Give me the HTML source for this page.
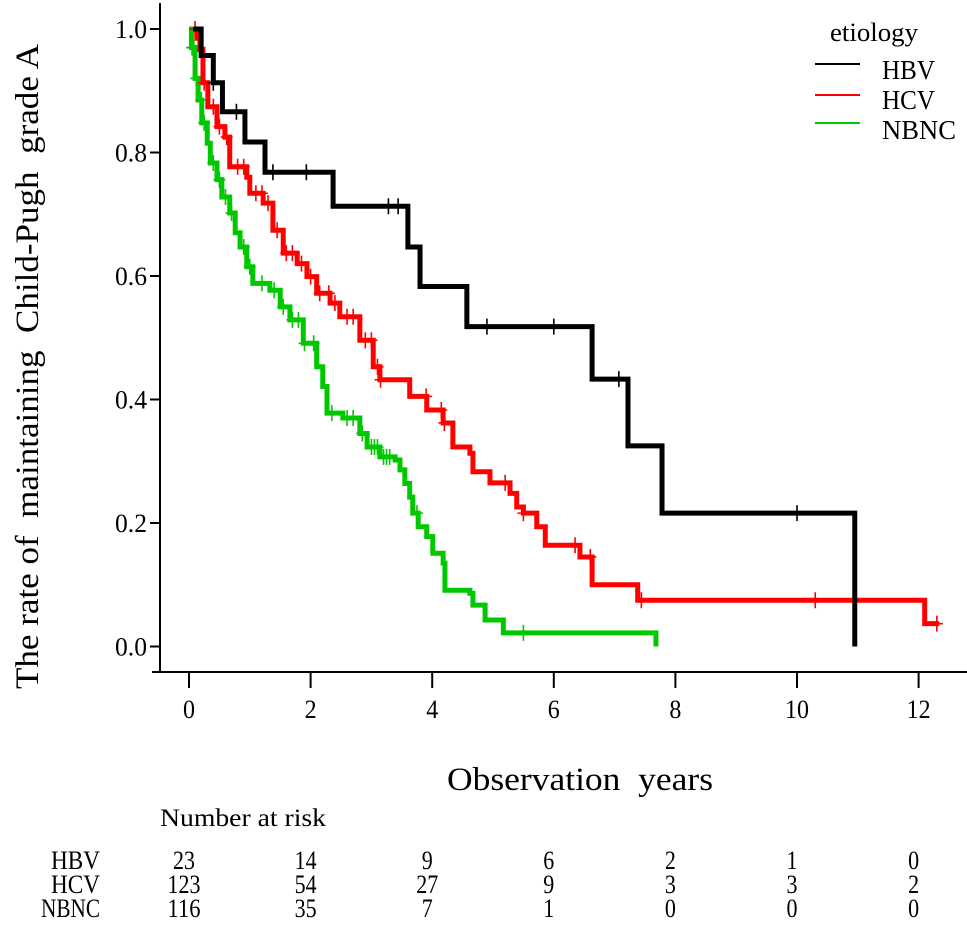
<!DOCTYPE html>
<html><head><meta charset="utf-8"><style>
html,body{margin:0;padding:0;background:#fff;}
svg{display:block;font-family:"Liberation Serif",serif;}
.pre{white-space:pre;}
</style></head><body>
<svg id="chart" width="967" height="932" viewBox="0 0 967 932" xmlns="http://www.w3.org/2000/svg">
<g id="axes"></g>
<g id="series"></g>
<g id="legend">
  <text x="830" y="41" font-size="26" textLength="88" lengthAdjust="spacingAndGlyphs">etiology</text>
  <line x1="815" y1="64" x2="860" y2="64" stroke="#000" stroke-width="2"/>
  <line x1="815" y1="95" x2="860" y2="95" stroke="#f00" stroke-width="2"/>
  <line x1="815" y1="123" x2="860" y2="123" stroke="#00c800" stroke-width="2"/>
  <text x="882" y="79" font-size="27" textLength="53" lengthAdjust="spacingAndGlyphs">HBV</text>
  <text x="882" y="109" font-size="27" textLength="53" lengthAdjust="spacingAndGlyphs">HCV</text>
  <text x="882" y="139" font-size="27" textLength="74" lengthAdjust="spacingAndGlyphs">NBNC</text>
</g>
<text class="pre" transform="translate(38,367) rotate(-90)" x="-322" y="0" font-size="33" textLength="645" lengthAdjust="spacingAndGlyphs">The rate of  maintaining  Child-Pugh  grade A</text>
<text class="pre" x="447" y="790" font-size="33" textLength="266" lengthAdjust="spacingAndGlyphs">Observation  years</text>
<g id="risk">
  <text x="160" y="826" font-size="25" textLength="166" lengthAdjust="spacingAndGlyphs">Number at risk</text>
</g>
</svg>
<script>
const xTicks=[0,2,4,6,8,10,12];
const yTicks=[0,0.2,0.4,0.6,0.8,1.0];
const yTickLabels=["0.0","0.2","0.4","0.6","0.8","1.0"];
const hbvTimes=[0.2,0.4,0.55,0.92,1.25,2.37,3.6,3.8,4.57,6.63,7.22,7.78,10.95];
const hbvSurv=[0.957,0.913,0.866,0.817,0.768,0.713,0.647,0.583,0.518,0.433,0.325,0.216,0];
const hbvCens=[0.4,0.78,1.38,1.93,3.28,3.44,4.9,6.0,7.07,10.0];
const hcvTimes=[0.13,0.18,0.23,0.31,0.46,0.59,0.67,0.95,1.0,1.22,1.38,1.55,1.78,1.94,2.1,2.32,2.48,2.81,3.03,3.14,3.63,3.91,4.18,4.34,4.62,4.67,4.95,5.28,5.39,5.5,5.72,5.86,6.43,6.63,7.38,12.1];
const hcvSurv=[0.985,0.967,0.913,0.874,0.842,0.825,0.777,0.76,0.734,0.718,0.674,0.637,0.62,0.599,0.572,0.556,0.534,0.496,0.453,0.432,0.405,0.383,0.362,0.323,0.313,0.283,0.265,0.248,0.226,0.216,0.194,0.164,0.145,0.1,0.075,0.037];
const hcvCens=[0.1,0.25,0.4,0.5,0.62,0.8,0.9,1.1,1.2,1.3,1.45,1.6,1.7,1.85,2.0,2.15,2.3,2.4,2.6,2.7,2.9,3.0,3.1,3.15,3.9,4.15,4.2,5.2,5.5,6.35,6.6,7.44,10.3,12.3];
const nbncTimes=[0.04,0.1,0.15,0.21,0.3,0.35,0.46,0.54,0.67,0.76,0.84,0.95,1.05,1.33,1.5,1.66,1.88,2.1,2.2,2.27,2.53,2.81,2.93,3.14,3.39,3.47,3.55,3.63,3.68,3.77,3.91,4.01,4.18,4.21,4.62,4.67,4.87,5.17,7.68];
const nbncSurv=[0.97,0.92,0.885,0.848,0.815,0.783,0.756,0.728,0.702,0.67,0.647,0.615,0.588,0.577,0.55,0.529,0.491,0.453,0.421,0.378,0.37,0.345,0.323,0.307,0.302,0.286,0.264,0.242,0.216,0.194,0.178,0.151,0.135,0.091,0.086,0.067,0.043,0.022,0];
const nbncCens=[0.05,0.08,0.12,0.2,0.25,0.4,0.5,0.6,0.7,0.9,1.0,1.2,1.4,1.55,1.7,1.8,1.9,2.05,2.35,2.6,2.7,2.85,3.0,3.05,3.1,3.2,3.25,3.3,3.75,5.5];
const riskRows=["HBV","HCV","NBNC"];
const riskHBV=[23,14,9,6,2,1,0];
const riskHCV=[123,54,27,9,3,3,2];
const riskNBNC=[116,35,7,1,0,0,0];

const NS="http://www.w3.org/2000/svg";
const X=t=>189+t*60.8;
const Y=s=>646.5-617.5*s;
function mk(tag,attrs,parent){const el=document.createElementNS(NS,tag);for(const k in attrs)el.setAttribute(k,attrs[k]);parent.appendChild(el);return el;}
const axes=document.getElementById('axes');
let e;
e=mk('line',{x1:160,y1:3,x2:160,y2:672,stroke:'#000','stroke-width':2},axes);


e=mk('line',{x1:152,y1:672,x2:967,y2:672,stroke:'#000','stroke-width':2},axes);


xTicks.forEach(t=>{
  e=mk('line',{x1:X(t),y1:672,x2:X(t),y2:688,stroke:'#000','stroke-width':2},axes);
  
  
  const s=String(t);
  e=mk('text',{x:X(t),y:718,'text-anchor':'middle','font-size':26,textLength:s.length*12,lengthAdjust:'spacingAndGlyphs'},axes);
  
  
  e.textContent=s;
});
yTicks.forEach((v,i)=>{
  e=mk('line',{x1:150,y1:Y(v),x2:160,y2:Y(v),stroke:'#000','stroke-width':2},axes);
  
  
  e=mk('text',{x:115,y:Y(v)+9,'font-size':26,textLength:32,lengthAdjust:'spacingAndGlyphs'},axes);
  
  
  e.textContent=yTickLabels[i];
});
const ser=document.getElementById('series');
function survAt(times,surv,t){let s=1;for(let i=0;i<times.length;i++){if(times[i]<=t)s=surv[i];}return s;}
function drawKM(times,surv,cens,color,name,endT){
  let d='M'+X(0.07)+' '+Y(1);
  times.forEach((t,i)=>{d+=' H'+X(t)+' V'+Y(surv[i]);});
  if(endT>times[times.length-1])d+=' H'+X(endT);
  e=mk('path',{d:d,fill:'none',stroke:color,'stroke-width':5,'stroke-linejoin':'miter'},ser);
  
  
  cens.forEach(t=>{
    const y=Y(survAt(times,surv,t)),x=X(t);
    e=mk('path',{d:'M'+(x-6)+' '+y+' H'+(x+6)+' M'+x+' '+(y-8)+' V'+(y+8),stroke:color,'stroke-width':1.6,fill:'none'},ser);
    
    
  });
}
drawKM(nbncTimes,nbncSurv,nbncCens,'#00c800','nbnc',7.68);
drawKM(hcvTimes,hcvSurv,hcvCens,'#ff0000','hcv',12.34);
drawKM(hbvTimes,hbvSurv,hbvCens,'#000000','hbv',10.95);
const risk=document.getElementById('risk');
const rowVals=[riskHBV,riskHCV,riskNBNC];
const labelW=[49,49,59];
riskRows.forEach((r,ri)=>{
  const y=869+ri*24;
  e=mk('text',{x:100-labelW[ri],y:y,'font-size':26,textLength:labelW[ri],lengthAdjust:'spacingAndGlyphs'},risk);
  
  
  e.textContent=r;
  rowVals[ri].forEach((v,i)=>{
    const s=String(v);
    e=mk('text',{x:X(xTicks[i])-5,y:y,'text-anchor':'middle','font-size':26,textLength:s.length*11,lengthAdjust:'spacingAndGlyphs'},risk);
    
    
    e.textContent=s;
  });
});
</script>
</body></html>
